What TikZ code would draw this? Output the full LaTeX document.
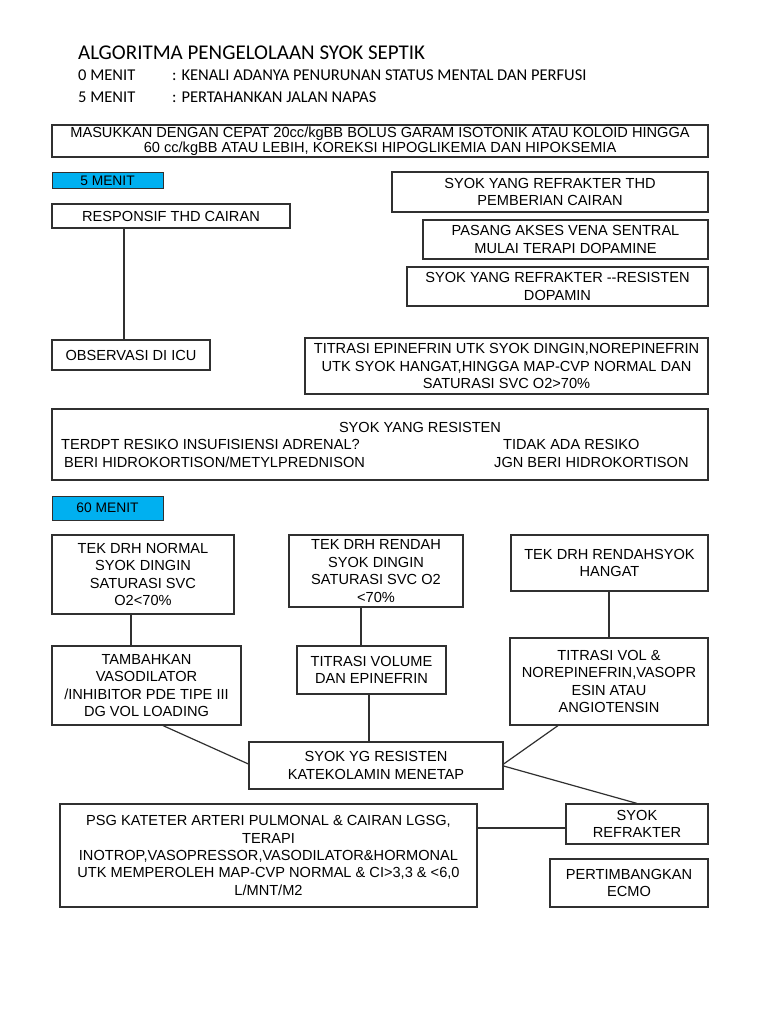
\documentclass[tikz,border=0pt]{standalone}
\usepackage{fontspec}
\setmainfont{Liberation Sans}
\newfontfamily\boxfont{Liberation Sans}
\newfontfamily\headfont{Carlito}
\definecolor{menitblue}{HTML}{00B0F0}
\definecolor{edge}{HTML}{303030}
\tikzset{
  box/.style={draw=edge, line width=1.2pt, fill=white, align=center, inner sep=1pt,
    font=\boxfont\fontsize{14.6}{17.4}\selectfont, anchor=center},
  menit/.style={draw=edge, line width=1pt, fill=menitblue, align=center, inner sep=0pt,
    font=\boxfont\fontsize{13.8}{15}\selectfont},
  plain/.style={inner sep=0pt, font=\boxfont\fontsize{14.6}{17}\selectfont},
  head/.style={inner sep=0pt, anchor=west, font=\headfont\fontsize{16.5}{19}\selectfont},
  link/.style={draw=edge, line width=1.2pt}
}
\begin{document}
\begin{tikzpicture}[x=1pt,y=-1pt]
\useasboundingbox (0,0) rectangle (768,1024);
\fill[white] (0,0) rectangle (768,1024);
% header
\node[head, font=\headfont\fontsize{21}{25}\selectfont] (title) at (78,53) {ALGORITMA PENGELOLAAN SYOK SEPTIK};
\node[head] (m0) at (78,75) {0 MENIT};
\node[head] (m0t) at (172,75) {: KENALI ADANYA PENURUNAN STATUS MENTAL DAN PERFUSI};
\node[head] (m5) at (78,97) {5 MENIT};
\node[head] (m5t) at (172,97) {: PERTAHANKAN JALAN NAPAS};
% boxes
\node[box, minimum width=656, minimum height=32] (bolus) at (380,141)
  {MASUKKAN DENGAN CEPAT 20cc/kgBB BOLUS GARAM ISOTONIK ATAU KOLOID HINGGA\\[-2.5pt]60 cc/kgBB ATAU LEBIH, KOREKSI HIPOGLIKEMIA DAN HIPOKSEMIA};
\node[menit, minimum width=111, minimum height=16] (b5) at (107.5,181) {5 MENIT};
\node[box, minimum width=238, minimum height=24] (resp) at (171,216) {RESPONSIF THD CAIRAN};
\node[box, minimum width=158, minimum height=30] (obs) at (131,355) {OBSERVASI DI ICU};
\node[box, minimum width=316, minimum height=40] (ref1) at (550,192) {SYOK YANG REFRAKTER THD\\PEMBERIAN CAIRAN};
\node[box, minimum width=285, minimum height=39] (pasang) at (565.5,239.5) {PASANG AKSES VENA SENTRAL\\MULAI TERAPI DOPAMINE};
\node[box, minimum width=301, minimum height=39] (ref2) at (557.5,286.5) {SYOK YANG REFRAKTER --RESISTEN\\DOPAMIN};
\node[box, minimum width=403, minimum height=56] (titr) at (506.5,366) {TITRASI EPINEFRIN UTK SYOK DINGIN,NOREPINEFRIN\\UTK SYOK HANGAT,HINGGA MAP-CVP NORMAL DAN\\SATURASI SVC O2>70\%};
\node[box, minimum width=656, minimum height=71] (res) at (380,444.5) {};
\node[plain] (resA) at (420,427) {SYOK YANG RESISTEN};
\node[plain, anchor=west] (resB) at (61,444) {TERDPT RESIKO INSUFISIENSI ADRENAL?};
\node[plain, anchor=west] (resC) at (503,444) {TIDAK ADA RESIKO};
\node[plain, anchor=west] (resD) at (64,462) {BERI HIDROKORTISON/METYLPREDNISON};
\node[plain, anchor=west] (resE) at (494,462) {JGN BERI HIDROKORTISON};
\node[menit, minimum width=111, minimum height=24] (b60) at (107.5,508) {60 MENIT};
\node[box, minimum width=182, minimum height=79] (tn) at (143,574.5) {TEK DRH NORMAL\\SYOK DINGIN\\SATURASI SVC\\O2<70\%};
\node[box, minimum width=174, minimum height=72] (tr) at (376,571) {TEK DRH RENDAH\\SYOK DINGIN\\SATURASI SVC O2\\<70\%};
\node[box, minimum width=197, minimum height=56] (th) at (609.5,563) {TEK DRH RENDAHSYOK\\HANGAT};
\node[box, minimum width=189, minimum height=79] (tamb) at (146.5,685.5) {TAMBAHKAN\\VASODILATOR\\/INHIBITOR PDE TIPE III\\DG VOL LOADING};
\node[box, minimum width=149, minimum height=48] (tvol) at (371.5,670) {TITRASI VOLUME\\DAN EPINEFRIN};
\node[box, minimum width=198, minimum height=87] (tvn) at (609,681.5) {TITRASI VOL \&\\NOREPINEFRIN,VASOPR\\ESIN ATAU\\ANGIOTENSIN};
\node[box, minimum width=254, minimum height=47] (kat) at (376,765.5) {SYOK YG RESISTEN\\KATEKOLAMIN MENETAP};
\node[box, minimum width=417, minimum height=103] (psg) at (268.5,855.5) {PSG KATETER ARTERI PULMONAL \& CAIRAN LGSG,\\TERAPI\\INOTROP,VASOPRESSOR,VASODILATOR\&HORMONAL\\UTK MEMPEROLEH MAP-CVP NORMAL \& CI>3,3 \& <6,0\\L/MNT/M2};
\node[box, minimum width=142, minimum height=40] (sr) at (637,824) {SYOK\\REFRAKTER};
\node[box, minimum width=158, minimum height=48] (ecmo) at (629,883) {PERTIMBANGKAN\\ECMO};
% connectors
\draw[link] (resp.south -| 124,0) -- (obs.north -| 124,0);
\draw[link] (tn.south -| 131,0) -- (tamb.north -| 131,0);
\draw[link] (tr.south -| 361,0) -- (tvol.north -| 361,0);
\draw[link] (th.south -| 609,0) -- (tvn.north -| 609,0);
\draw[link] (tamb.south -| 163,0) -- (kat.west |- 0,764);
\draw[link] (tvol.south -| 369,0) -- (kat.north -| 369,0);
\draw[link] (tvn.south -| 558,0) -- (kat.east |- 0,764);
\draw[link] (kat.east |- 0,766) -- (sr.north);
\draw[link] (psg.east |- 0,828) -- (sr.west |- 0,828);
\end{tikzpicture}
\end{document}
